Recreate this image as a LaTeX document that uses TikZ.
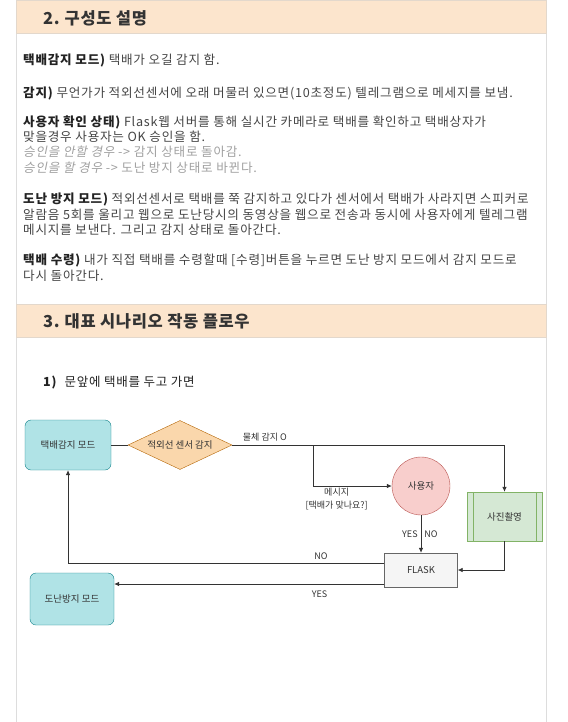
\documentclass[tikz,border=0pt]{standalone}
\usepackage{fontspec}
\setmainfont{Noto Sans CJK KR}[AutoFakeSlant=0.2]
\usetikzlibrary{arrows.meta, positioning, shapes.geometric}
\definecolor{bandfill}{HTML}{FCE5CD}
\definecolor{bandline}{HTML}{E3D8CC}
\definecolor{frameline}{HTML}{DDDDDD}
\definecolor{bodytext}{HTML}{444444}
\definecolor{boldtext}{HTML}{222222}
\definecolor{notetext}{HTML}{A0A0A0}
\definecolor{flowtext}{HTML}{333333}
\definecolor{flowline}{HTML}{333333}
\definecolor{modefill}{HTML}{B0E3E6}
\definecolor{modeline}{HTML}{0E8088}
\definecolor{sensorfill}{HTML}{FAD7AC}
\definecolor{sensorline}{HTML}{B46504}
\definecolor{userfill}{HTML}{F8CECC}
\definecolor{userline}{HTML}{B85450}
\definecolor{photofill}{HTML}{D5E8D4}
\definecolor{photoline}{HTML}{82B366}
\definecolor{serverfill}{HTML}{F5F5F5}
\definecolor{serverline}{HTML}{666666}

\begin{document}
\begin{tikzpicture}[x=1pt, y=-1pt,
		txt/.style={anchor=base west, inner sep=0pt, text=bodytext, font=\fontsize{12.6}{14}\selectfont\addfontfeatures{LetterSpace=6}},
		note/.style={txt, text=notetext},
		hdr/.style={anchor=west, inner sep=0pt, text=flowtext, font=\fontsize{16.5}{18}\selectfont\addfontfeatures{LetterSpace=4}\bfseries},
		band/.style={draw=bandline, fill=bandfill, minimum width=530pt, minimum height=33pt, anchor=north west, inner sep=0pt},
		box/.style={font=\fontsize{9.5}{11}\selectfont, text=flowtext, inner sep=0pt},
		mode/.style={box, draw=modeline, fill=modefill, rounded corners=6pt, minimum width=86pt, minimum height=50pt},
		sensor/.style={box, diamond, aspect=2.1, draw=sensorline, fill=sensorfill, minimum width=104pt, minimum height=49pt},
		user/.style={box, circle, draw=userline, fill=userfill, minimum size=58pt},
		photo/.style={box, draw=photoline, fill=photofill, minimum width=75pt, minimum height=49pt},
		server/.style={box, draw=serverline, fill=serverfill, minimum width=73pt, minimum height=34pt},
		flow/.style={draw=flowline, line width=0.7pt},
		arrow/.style={flow, -{Latex[length=5pt,width=4.5pt]}},
		lbl/.style={font=\fontsize{9}{13.5}\selectfont, text=flowtext, inner sep=3pt}]
		\useasboundingbox (0,0) rectangle (567,722);
		\draw[frameline] (16,0) -- (16,722) (546,0) -- (546,722);
		\node[band] (sec2) at (16,0) {};
		\node[hdr] (sec2_title) at (43,18) {2.\hspace{5pt}구성도 설명};
		\node[txt] (desc_mode) at (23,65) {\textcolor{boldtext}{\bfseries 택배감지 모드)} 택배가 오길 감지 함.};
		\node[txt] (desc_sense) at (23,98) {\textcolor{boldtext}{\bfseries 감지)} 무언가가 적외선센서에 오래 머물러 있으면(10초정도) 텔레그램으로 메세지를 보냄.};
		\node[txt] (desc_user_1) at (23,127) {\textcolor{boldtext}{\bfseries 사용자 확인 상태)} Flask웹 서버를 통해 실시간 카메라로 택배를 확인하고 택배상자가};
		\node[txt] (desc_user_2) at (23,142) {맞을경우 사용자는 OK 승인을 함.};
		\node[note] (desc_user_3) at (23,157) {\itshape 승인을 안할 경우\upshape{} -> 감지 상태로 돌아감.};
		\node[note] (desc_user_4) at (23,172) {\itshape 승인을 할 경우\upshape{} -> 도난 방지 상태로 바뀐다.};
		\node[txt] (desc_theft_1) at (23,203) {\textcolor{boldtext}{\bfseries 도난 방지 모드)} 적외선센서로 택배를 쭉 감지하고 있다가 센서에서 택배가 사라지면 스피커로};
		\node[txt] (desc_theft_2) at (23,219) {알람음 5회를 울리고 웹으로 도난당시의 동영상을 웹으로 전송과 동시에 사용자에게 텔레그램};
		\node[txt] (desc_theft_3) at (23,234) {메시지를 보낸다. 그리고 감지 상태로 돌아간다.};
		\node[txt] (desc_recv_1) at (23,264) {\textcolor{boldtext}{\bfseries 택배 수령)} 내가 직접 택배를 수령할때 [수령]버튼을 누르면 도난 방지 모드에서 감지 모드로};
		\node[txt] (desc_recv_2) at (23,280) {다시 돌아간다.};
		\node[band] (sec3) at (16,304) {};
		\node[hdr] (sec3_title) at (43,321) {3.\hspace{5pt}대표 시나리오 작동 플로우};
		\node[txt, text=boldtext, font=\fontsize{12.5}{14}\selectfont\addfontfeatures{LetterSpace=6}] (scene1) at (43,386) {\bfseries 1)\mdseries\hspace{8pt}문앞에 택배를 두고 가면};
		\node[mode] (mode) at (68,445) {택배감지 모드};
		\node[sensor] (sensor) at (180,445) {적외선 센서 감지};
		\node[user] (user) at (421,486) {사용자};
		\node[photo] (photo) at (504.5,516.5) {사진촬영};
		\draw[photoline] ([xshift=6pt]photo.north west) -- ([xshift=6pt]photo.south west) ([xshift=-6pt]photo.north east) -- ([xshift=-6pt]photo.south east);
		\node[server] (flask) at (421,570) {FLASK};
		\node[mode, minimum width=84pt, minimum height=52pt] (theft) at (72,599) {도난방지 모드};
		\coordinate (split) at (313,445);
		\coordinate (yes_start) at ([yshift=-14pt]flask.west);
		\draw[flow] (mode) -- (sensor);
		\draw[arrow] (sensor.east) -| (photo.north) node[lbl, pos=0.06, above] {물체 감지 O};
		\draw[arrow] (split) |- (user.west) node[lbl, pos=0.65, below, align=center, inner sep=1.5pt] {메시지\\{}[택배가 맞나요?]};
		\draw[arrow] (user) -- (flask) node[lbl, pos=0.5, left] {YES} node[lbl, pos=0.5, right] {NO};
		\draw[arrow] (photo) |- (flask);
		\draw[arrow] ([yshift=7pt]flask.west) -| (mode.south) node[lbl, pos=0.1, above] {NO};
		\draw[arrow] (yes_start) -- (yes_start -| theft.east) node[lbl, pos=0.24, below, inner sep=6pt] {YES};
	\end{tikzpicture}
\end{document}
